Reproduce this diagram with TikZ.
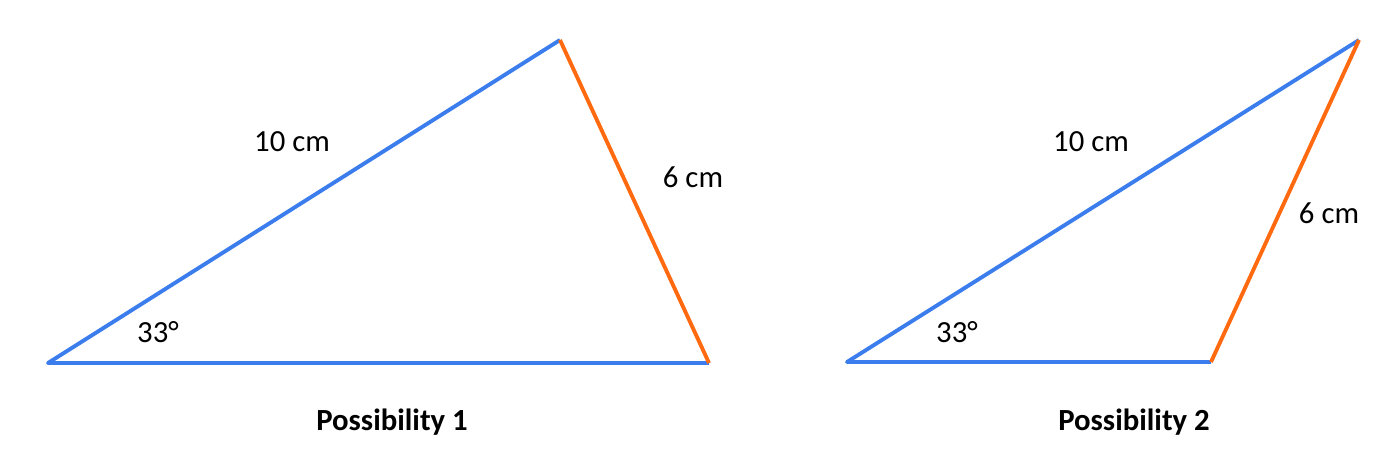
\documentclass[tikz,border=0pt]{standalone}
\usepackage{fontspec}
\setmainfont{Carlito}
\definecolor{sideblue}{RGB}{59,125,237}
\definecolor{sideorange}{RGB}{255,106,16}
\begin{document}
\begin{tikzpicture}[x=0.02cm, y=-0.02cm, line width=2.2pt, line join=round,
    lbl/.style={font=\fontsize{17.5}{21}\selectfont, inner sep=0pt}]
    \useasboundingbox (0,0) rectangle (1383,467);
    % possibility 1
    \coordinate (A1) at (48,363);
    \coordinate (B1) at (560,40);
    \coordinate (C1) at (709,363);
    \draw[sideblue] (C1) -- (A1) -- (B1);
    \draw[sideorange] (B1) -- (C1);
    \node[lbl] (long1) at (292,142) {10 cm};
    \node[lbl] (short1) at (693,177) {6 cm};
    \node[lbl] (ang1) at (158,332) {33°};
    \node[lbl, font=\fontsize{17.5}{21}\selectfont\bfseries] (cap1) at (392,422) {Possibility 1};
    % possibility 2
    \coordinate (A2) at (847,362);
    \coordinate (B2) at (1359,40);
    \coordinate (C2) at (1211,362);
    \draw[sideblue] (C2) -- (A2) -- (B2);
    \draw[sideorange] (B2) -- (C2);
    \node[lbl] (long2) at (1091,142) {10 cm};
    \node[lbl] (short2) at (1329,213) {6 cm};
    \node[lbl] (ang2) at (957,332) {33°};
    \node[lbl, font=\fontsize{17.5}{21}\selectfont\bfseries] (cap2) at (1134,422) {Possibility 2};
\end{tikzpicture}
\end{document}
